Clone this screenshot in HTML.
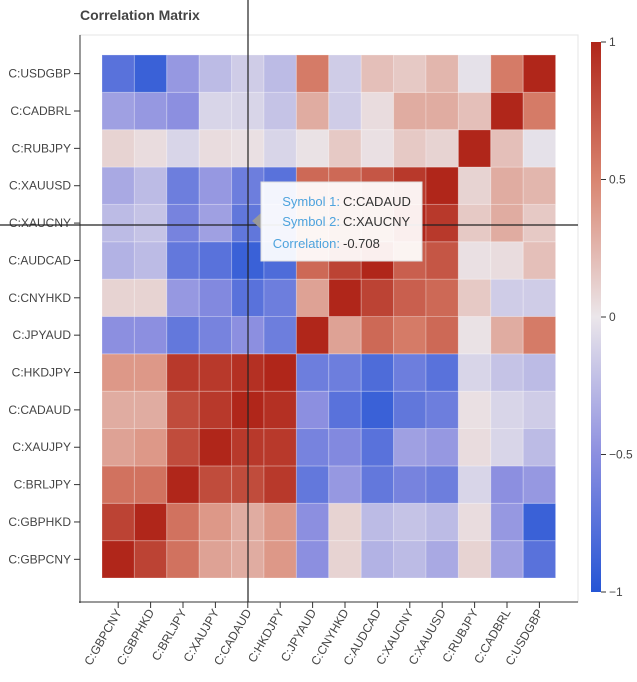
<!DOCTYPE html>
<html><head><meta charset="utf-8"><style>
body{margin:0;background:#fff;font-family:"Liberation Sans",sans-serif;}
svg text{font-family:"Liberation Sans",sans-serif;}
</style></head><body>
<svg id="c" width="637" height="677">
<defs><linearGradient id="cb" x1="0" y1="1" x2="0" y2="0">
<stop offset="0" stop-color="#2555d5"/><stop offset="0.25" stop-color="#8c8fe0"/><stop offset="0.5" stop-color="#ebe6ea"/><stop offset="0.75" stop-color="#d98570"/><stop offset="1" stop-color="#b0261a"/></linearGradient></defs>
<text x="80" y="20" font-size="14" font-weight="bold" fill="#444">Correlation Matrix</text>
<rect x="80" y="35" width="498" height="567" fill="none" stroke="#e5e5e5"/>
<g id="cells"></g>
<line x1="80" y1="35" x2="80" y2="603" stroke="#333"/>
<line x1="79" y1="602" x2="578" y2="602" stroke="#333"/>
<g id="ticks"></g>
<rect x="591" y="42" width="10" height="550" fill="url(#cb)"/>
<g id="cbt"></g>
<line x1="248" y1="0" x2="248" y2="602" stroke="#222" stroke-width="1.2"/>
<line x1="0" y1="225" x2="578" y2="225" stroke="#222" stroke-width="1.2"/>
<g>
<polygon points="261,213 252,221 261,229" fill="#999"/>
<rect x="261" y="182" width="161" height="79" fill="#fff" fill-opacity="0.93" stroke="#ddd"/>
<text x="340" y="206" font-size="13" text-anchor="end" fill="#4ea3dd">Symbol 1:</text><text x="343" y="206" font-size="13" fill="#333">C:CADAUD</text>
<text x="340" y="226" font-size="13" text-anchor="end" fill="#4ea3dd">Symbol 2:</text><text x="343" y="226" font-size="13" fill="#333">C:XAUCNY</text>
<text x="340" y="248" font-size="13" text-anchor="end" fill="#4ea3dd">Correlation:</text><text x="343" y="248" font-size="13" fill="#333">-0.708</text>
</g>
</svg>
<script>
const symbols=["C:GBPCNY","C:GBPHKD","C:BRLJPY","C:XAUJPY","C:CADAUD","C:HKDJPY","C:JPYAUD","C:CNYHKD","C:AUDCAD","C:XAUCNY","C:XAUUSD","C:RUBJPY","C:CADBRL","C:USDGBP"];
const corrGBPCNY=[1,0.85,0.6,0.35,0.3,0.4,-0.5,0.1,-0.3,-0.25,-0.35,0.1,-0.4,-0.75];
const corrGBPHKD=[0.85,1,0.6,0.4,0.3,0.4,-0.5,0.1,-0.25,-0.2,-0.25,0.05,-0.45,-0.9];
const corrBRLJPY=[0.6,0.6,1,0.8,0.8,0.9,-0.7,-0.45,-0.7,-0.6,-0.65,-0.1,-0.5,-0.45];
const corrXAUJPY=[0.35,0.4,0.8,1,0.9,0.9,-0.6,-0.55,-0.75,-0.4,-0.45,0.05,-0.1,-0.25];
const corrCADAUD=[0.3,0.3,0.8,0.9,1,0.95,-0.5,-0.75,-0.9,-0.708,-0.65,0.03,-0.1,-0.15];
const corrHKDJPY=[0.4,0.4,0.9,0.9,0.95,1,-0.65,-0.65,-0.8,-0.65,-0.75,-0.1,-0.2,-0.25];
const corrJPYAUD=[-0.5,-0.5,-0.7,-0.6,-0.5,-0.65,1,0.35,0.65,0.55,0.65,0.02,0.3,0.55];
const corrCNYHKD=[0.1,0.1,-0.45,-0.55,-0.75,-0.65,0.35,1,0.85,0.7,0.65,0.15,-0.15,-0.15];
const corrAUDCAD=[-0.3,-0.25,-0.7,-0.75,-0.9,-0.8,0.65,0.85,1,0.7,0.75,0.03,0.05,0.2];
const corrXAUCNY=[-0.25,-0.2,-0.6,-0.4,-0.708,-0.65,0.55,0.7,0.7,1,0.9,0.15,0.3,0.15];
const corrXAUUSD=[-0.35,-0.25,-0.65,-0.45,-0.65,-0.75,0.65,0.65,0.75,0.9,1,0.1,0.3,0.25];
const corrRUBJPY=[0.1,0.05,-0.1,0.05,0.03,-0.1,0.02,0.15,0.03,0.15,0.1,1,0.2,-0.03];
const corrCADBRL=[-0.4,-0.45,-0.5,-0.1,-0.1,-0.2,0.3,-0.15,0.05,0.3,0.3,0.2,1,0.55];
const corrUSDGBP=[-0.75,-0.9,-0.45,-0.25,-0.15,-0.25,0.55,-0.15,0.2,0.15,0.25,-0.03,0.55,1];
const matrix=[corrGBPCNY,corrGBPHKD,corrBRLJPY,corrXAUJPY,corrCADAUD,corrHKDJPY,corrJPYAUD,corrCNYHKD,corrAUDCAD,corrXAUCNY,corrXAUUSD,corrRUBJPY,corrCADBRL,corrUSDGBP];
const cbTicks=[1,0.5,0,-0.5,-1];
const NS="http://www.w3.org/2000/svg";
const X0=102,CW=32.4,YB=578,CH=37.36;
const xPos=i=>X0+i*CW;
const yPos=i=>YB-(i+1)*CH;
const stops=[[-1,[37,85,213]],[-0.5,[140,143,224]],[0,[235,230,234]],[0.5,[217,133,112]],[1,[176,38,26]]];
function color(v){v=Math.max(-1,Math.min(1,v));for(let k=0;k<4;k++){const a=stops[k],b=stops[k+1];if(v<=b[0]){const t=(v-a[0])/(b[0]-a[0]);return 'rgb('+a[1].map((c,j)=>Math.round(c+(b[1][j]-c)*t)).join(',')+')';}}}
function el(t,a,p){const e=document.createElementNS(NS,t);for(const k in a)e.setAttribute(k,a[k]);p.appendChild(e);return e;}
const cells=document.getElementById('cells'),ticks=document.getElementById('ticks');
matrix.forEach((row,r)=>row.forEach((v,c)=>{
 const e=el('rect',{x:xPos(c),y:yPos(r),width:CW,height:CH,fill:color(v),stroke:'#fff','stroke-opacity':0.25},cells);
 
 
}));
symbols.forEach((s,i)=>{
 const cy=yPos(i)+CH/2, cx=xPos(i)+CW/2;
 el('line',{x1:74,y1:cy,x2:80,y2:cy,stroke:'#333'},ticks);
 const t=el('text',{x:71,y:cy+4,'font-size':12,'text-anchor':'end',fill:'#444'},ticks);t.textContent=s;
 
 
 el('line',{x1:cx,y1:602,x2:cx,y2:608,stroke:'#333'},ticks);
 const u=el('text',{x:cx+4,y:612,'font-size':12,'text-anchor':'end',fill:'#444',transform:'rotate(-60 '+(cx+4)+' 612)'},ticks);u.textContent=s;
 
 
});
const cbt=document.getElementById('cbt');
cbTicks.forEach(v=>{
 const y=42+(1-v)/2*550;
 el('line',{x1:601,y1:y,x2:606,y2:y,stroke:'#333'},cbt);
 const t=el('text',{x:609,y:y+4,'font-size':12,fill:'#444'},cbt);t.textContent=(v>0?'':'')+(v===-1?'−1':v===-0.5?'−0.5':v);
 
 
});
</script>
</body></html>
